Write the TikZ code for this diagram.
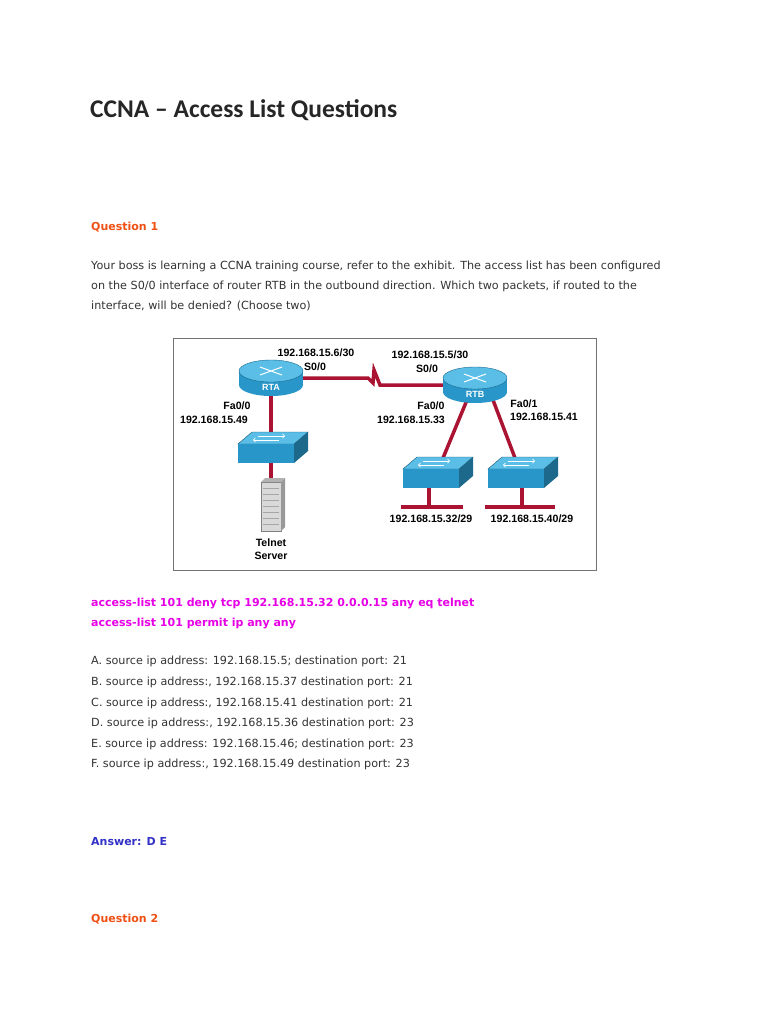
\documentclass[tikz,border=0pt]{standalone}
\usepackage{fontspec}
\setmainfont{DejaVu Sans}
\newfontfamily\ttl{Carlito}
\newfontfamily\arl{Liberation Sans}
\usetikzlibrary{calc}
\definecolor{qred}{RGB}{240,80,20}
\definecolor{mag}{RGB}{230,0,230}
\definecolor{ans}{RGB}{50,50,200}
\definecolor{link}{RGB}{170,20,50}
\definecolor{cyanb}{RGB}{40,150,200}
\definecolor{cyanl}{RGB}{90,190,230}
\tikzset{
 body/.style={anchor=west,inner sep=0,font=\fontsize{11.2}{13}\selectfont,text=black!80},
 bbody/.style={body,font=\bfseries\fontsize{11}{13}\selectfont},
 lab/.style={inner sep=0,font=\arl\bfseries\fontsize{10.6}{11.5}\selectfont},
 wire/.style={link,line width=3.5pt},
}
\newcommand{\router}[3]{%
 \fill[cyanb] (#1-32,#2) rectangle (#1+32,#2+14);
 \fill[cyanb] (#1,#2+14) ellipse (32 and 11);
 \fill[cyanl,draw=cyanb!70!black,line width=0.4pt] (#1,#2) ellipse (32 and 11);
 \node[inner sep=0,text=white,font=\arl\bfseries\fontsize{9}{10}\selectfont] at (#1,#2+16) {#3};
 \draw[white,line width=1pt] (#1-11,#2-4)--(#1+11,#2+4) (#1-11,#2+4)--(#1+11,#2-4);}
\newcommand{\switchic}[2]{%
 \fill[cyanl,draw=cyanb!60!black,line width=0.4pt] (#1-35,#2-3)--(#1-21,#2-15)--(#1+35,#2-15)--(#1+21,#2-3)--cycle;
 \fill[cyanb] (#1-35,#2-3)--(#1+21,#2-3)--(#1+21,#2+16)--(#1-35,#2+16)--cycle;
 \fill[cyanb!70!black] (#1+21,#2-3)--(#1+35,#2-15)--(#1+35,#2+4)--(#1+21,#2+16)--cycle;
 \draw[white,line width=0.8pt,->] (#1-15,#2-11)--(#1+12,#2-11);
 \draw[white,line width=0.8pt,->] (#1+6,#2-7)--(#1-20,#2-7);}
\begin{document}
\begin{tikzpicture}[x=1pt,y=-1pt]
\fill[white] (0,0) rectangle (768,1024);
\useasboundingbox (0,0) rectangle (768,1024);
\node[anchor=west,inner sep=0,font=\ttl\bfseries\fontsize{25.5}{28}\selectfont,text=black!85] (title) at (90,110) {CCNA – Access List Questions};
\node[bbody,text=qred] (q1) at (91,227) {Question 1};
\node[body] (p1) at (91,266) {Your boss is learning a CCNA training course, refer to the exhibit. The access list has been configured};
\node[body] (p2) at (91,286) {on the S0/0 interface of router RTB in the outbound direction. Which two packets, if routed to the};
\node[body] (p3) at (91,306) {interface, will be denied? (Choose two)};
% exhibit
\draw[black!55,line width=1pt] (173,338) rectangle (596,570);
\draw[wire] (300,378)--(368,378)--(373,383)--(374,370)--(380,385)--(448,385);
\draw[wire] (271,390)--(271,445);
\draw[wire] (271,455)--(271,490);
\draw[wire] (467,400)--(443,458);
\draw[wire] (493,400)--(515,458);
\draw[wire] (429,475)--(429,507);
\draw[wire] (401,507)--(463,507);
\draw[wire] (522,475)--(522,507);
\draw[wire] (485,507)--(555,507);
\router{271}{371}{RTA}
\router{475}{378}{RTB}
\switchic{273}{447}
\switchic{438}{472}
\switchic{523}{472}
\fill[black!15,draw=black!50] (261,482) rectangle (281,531);
\fill[black!30] (261,482)--(265,478)--(285,478)--(281,482)--cycle;
\fill[black!40] (281,482)--(285,478)--(285,527)--(281,531)--cycle;
\foreach \yy in {488,494,...,526} \draw[black!35] (263,\yy)--(279,\yy);
\node[lab] (l1) at (316,353) {192.168.15.6/30};
\node[lab] (l2) at (315,367) {S0/0};
\node[lab] (l3) at (430,355) {192.168.15.5/30};
\node[lab] (l4) at (427,369) {S0/0};
\node[lab] (l5) at (237,406) {Fa0/0};
\node[lab] (l6) at (214,420) {192.168.15.49};
\node[lab] (l7) at (431,406) {Fa0/0};
\node[lab] (l8) at (411,420) {192.168.15.33};
\node[lab] (l9) at (524,404) {Fa0/1};
\node[lab] (l10) at (544,417) {192.168.15.41};
\node[lab] (l11) at (431,519) {192.168.15.32/29};
\node[lab] (l12) at (532,519) {192.168.15.40/29};
\node[lab,align=center,font=\arl\bfseries\fontsize{10.6}{13}\selectfont] (l13) at (271,549) {Telnet\\Server};
% text
\node[bbody,text=mag] (c1) at (91,604) {access-list 101 deny tcp 192.168.15.32 0.0.0.15 any eq telnet};
\node[bbody,text=mag] (c2) at (91,624) {access-list 101 permit ip any any};
\node[body] (a) at (91,661) {A. source ip address: 192.168.15.5; destination port: 21};
\node[body] (b) at (91,682) {B. source ip address:, 192.168.15.37 destination port: 21};
\node[body] (c) at (91,703) {C. source ip address:, 192.168.15.41 destination port: 21};
\node[body] (d) at (91,723) {D. source ip address:, 192.168.15.36 destination port: 23};
\node[body] (e) at (91,744) {E. source ip address: 192.168.15.46; destination port: 23};
\node[body] (f) at (91,764) {F. source ip address:, 192.168.15.49 destination port: 23};
\node[bbody,text=ans] (an) at (91,842) {Answer: D E};
\node[bbody,text=qred] (q2) at (91,919) {Question 2};
\end{tikzpicture}
\end{document}
